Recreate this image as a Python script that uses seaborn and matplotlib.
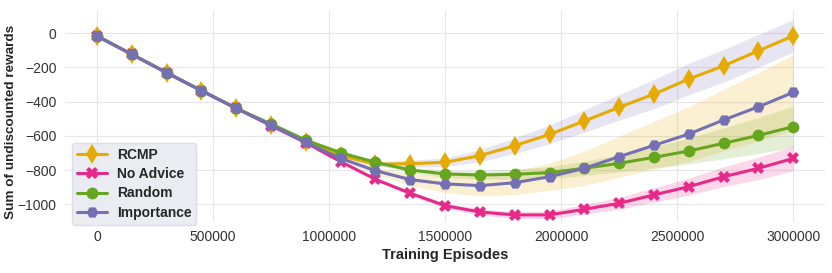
import numpy as np
import pandas as pd
import seaborn as sns
from matplotlib import pyplot as plt

episodes = np.arange(0, 3000001, 150000)

# mean curves
rcmp = [-17, -124, -231, -336, -439, -536, -634, -715, -765, -762, -754,
        -715, -657, -591, -513, -433, -356, -268, -191, -103, -16]
no_advice = [-17, -124, -231, -336, -439, -540, -640, -750, -853, -935, -1007,
             -1044, -1061, -1061, -1028, -993, -944, -896, -838, -789, -731]
random_adv = [-17, -124, -231, -336, -439, -530, -625, -698, -754, -799, -822,
              -828, -824, -814, -789, -760, -725, -688, -643, -597, -546]
importance = [-17, -124, -231, -336, -439, -536, -638, -731, -803, -855, -880,
              -890, -873, -838, -789, -721, -655, -589, -507, -430, -346]

# half widths of the shaded bands
rcmp_err = [4, 4, 4, 4, 4, 4, 5, 10, 15, 20, 25, 35, 45, 55, 65, 75, 85, 92, 95, 95, 95]
no_advice_err = [4, 4, 4, 4, 4, 4, 5, 8, 10, 12, 15, 18, 20, 22, 28, 35, 42, 50, 58, 65, 72]
random_err = [4, 4, 4, 4, 4, 4, 5, 8, 10, 15, 20, 25, 30, 35, 42, 50, 62, 75, 90, 105, 120]
importance_err = [4, 4, 4, 4, 4, 4, 5, 10, 20, 35, 50, 60, 70, 80, 100, 120, 140, 160, 180, 200, 220]

labels = ['RCMP', 'No Advice', 'Random', 'Importance']
colors = ['#e6ab02', '#e7298a', '#66a61e', '#7570b3']
# band colours in the original are swapped between RCMP and Importance
band_colors = ['#7570b3', '#e7298a', '#66a61e', '#e6ab02']
markers = ['d', 'X', 'o', 'H']
msizes = [10.5, 8.5, 8.5, 8.5]

df = pd.DataFrame({
    'episodes': np.tile(episodes, 4),
    'reward': np.concatenate([rcmp, no_advice, random_adv, importance]),
    'err': np.concatenate([rcmp_err, no_advice_err, random_err, importance_err]),
    'method': np.repeat(labels, len(episodes)),
})

sns.set_style('whitegrid', {'grid.color': '#e6e6ea', 'axes.edgecolor': 'white'})
plt.rcParams['font.family'] = ['Liberation Sans', 'DejaVu Sans']

fig = plt.figure(figsize=(8.32, 2.73), dpi=100)
ax = fig.add_axes([0.078, 0.187, 0.914, 0.776])

for lab, band in zip(labels, band_colors):
    d = df[df['method'] == lab]
    ax.fill_between(d['episodes'], d['reward'] - d['err'], d['reward'] + d['err'],
                    color=band, alpha=0.18, linewidth=0)

for lab, col, mk, ms in zip(labels, colors, markers, msizes):
    d = df[df['method'] == lab]
    sns.lineplot(data=d, x='episodes', y='reward', ax=ax, color=col, marker=mk,
                 markersize=ms, markeredgewidth=0, linewidth=2.2, label=lab)

ax.set_xlim(-138000, 3138000)
ax.set_ylim(-1102, 134)
ax.set_xticks(np.arange(0, 3000001, 500000))
ax.set_xticklabels([str(v) for v in range(0, 3000001, 500000)])
ax.set_yticks([0, -200, -400, -600, -800, -1000])
ax.set_yticklabels(['0', '\u2212200', '\u2212400', '\u2212600', '\u2212800', '\u22121000'])
ax.tick_params(axis='both', length=0, labelsize=10, colors='#333333', pad=6)
ax.set_xlabel('Training Episodes', fontsize=10.5, fontweight='bold', labelpad=3)
ax.set_ylabel('Sum of undiscounted rewards', fontsize=9.7, fontweight='bold')
ax.yaxis.set_label_coords(-0.063, 0.47)
for s in ax.spines.values():
    s.set_visible(False)

leg = ax.legend(loc='lower left', bbox_to_anchor=(0.0, -0.045), frameon=True,
                prop={'weight': 'bold', 'size': 10}, handlelength=2.2,
                labelspacing=0.38, borderpad=0.35, handletextpad=0.7)
leg.get_frame().set_facecolor('#eaeaf2')
leg.get_frame().set_edgecolor('#dcdce6')
leg.get_frame().set_alpha(0.95)

plt.savefig('out.png', dpi=100)
